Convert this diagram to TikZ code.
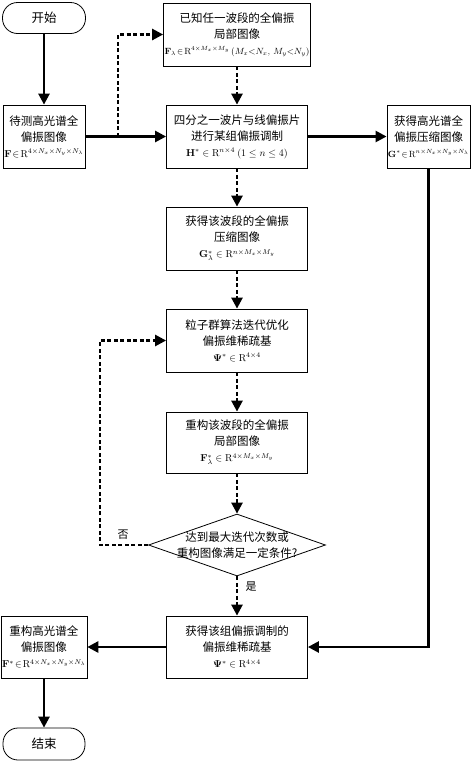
\documentclass[tikz,border=0pt]{standalone}
\usepackage[no-math]{fontspec}
\setmainfont{Liberation Serif}
\newfontfamily\cjk{Noto Sans CJK SC}
\usetikzlibrary{shapes.geometric,arrows.meta}
\tikzset{
  box/.style={draw,line width=0.8pt,minimum width=141pt,minimum height=63pt,align=center,inner sep=1pt,font=\cjk\fontsize{11.5}{16}\selectfont},
  sbox/.style={box,minimum width=82pt},
  term/.style={draw,line width=0.8pt,rounded corners=15pt,minimum width=83pt,minimum height=31pt,font=\cjk\fontsize{12.5}{14}\selectfont},
  flow/.style={line width=2.5pt,-{Triangle[length=11pt,width=11pt]}},
  dflow/.style={flow,dash pattern=on 4pt off 2.5pt},
}
\newcommand{\mth}[1]{{\fontsize{10}{12}\selectfont$#1$}}
\begin{document}
\begin{tikzpicture}[x=1pt,y=-1pt]
  \useasboundingbox (0,0) rectangle (474,764);
  \node[term] (start) at (44,18) {开始};
  \node[sbox] (src) at (44,136.5) {待测高光谱全\\偏振图像\\\mth{\mathbf{F}\!\in\!\mathrm{R}^{4\times N_x\times N_y\times N_\lambda}}};
  \node[box] (known) at (237,34.5) {已知任一波段的全偏振\\局部图像\\{\fontsize{9}{12}\selectfont$\mathbf{F}_\lambda\!\in\!\mathrm{R}^{4\times M_x\times M_y}\,(M_x{<}N_x,\,M_y{<}N_y)$}};
  \node[box] (mod) at (237,136.5) {四分之一波片与线偏振片\\进行某组偏振调制\\\mth{\mathbf{H}^*\in\mathrm{R}^{n\times 4}\ (1\le n\le 4)}};
  \node[sbox,minimum width=81pt] (comp) at (428.5,136.5) {获得高光谱全\\偏振压缩图像\\{\fontsize{9}{12}\selectfont$\mathbf{G}^*\!\in\!\mathrm{R}^{n\times N_x\times N_y\times N_\lambda}$}};
  \node[box] (bandc) at (237,238.5) {获得该波段的全偏振\\压缩图像\\\mth{\mathbf{G}_\lambda^*\in\mathrm{R}^{n\times M_x\times M_y}}};
  \node[box] (pso) at (237,340.5) {粒子群算法迭代优化\\偏振维稀疏基\\\mth{\mathbf{\Psi}^*\in\mathrm{R}^{4\times 4}}};
  \node[box,minimum height=61pt] (rec) at (237,442.5) {重构该波段的全偏振\\局部图像\\\mth{\mathbf{F}_\lambda^*\in\mathrm{R}^{4\times M_x\times M_y}}};
  \node[diamond,draw,line width=0.8pt,minimum width=177pt,minimum height=62pt,inner sep=0pt,
    label={[font=\cjk\fontsize{11.5}{16}\selectfont,align=center]center:达到最大迭代次数或\\重构图像满足一定条件?}] (dec) at (237,545) {};
  \node[box,minimum height=62pt] (basis) at (237,647) {获得该组偏振调制的\\偏振维稀疏基\\\mth{\mathbf{\Psi}^*\in\mathrm{R}^{4\times 4}}};
  \node[sbox,minimum height=62pt] (out) at (44,647) {重构高光谱全\\偏振图像\\\mth{\mathbf{F}^*\!\in\!\mathrm{R}^{4\times N_x\times N_y\times N_\lambda}}};
  \node[term,minimum width=82pt,minimum height=32pt] (end) at (44,744) {结束};
  \node[font=\cjk\fontsize{11}{12}\selectfont] (no) at (123,535) {否};
  \node[font=\cjk\fontsize{11}{12}\selectfont] (yes) at (251,587) {是};
  \coordinate (j) at (118,136.5);
  \coordinate (back) at (100,545);
  \draw[flow] (start) -- (src);
  \draw[flow] (src) -- (mod);
  \draw[dflow] (j) |- (known.west);
  \draw[dflow] (known) -- (mod);
  \draw[flow] (mod) -- (comp);
  \draw[dflow] (mod) -- (bandc);
  \draw[dflow] (bandc) -- (pso);
  \draw[dflow] (pso) -- (rec);
  \draw[dflow] (rec) -- (dec);
  \draw[dflow] (dec) -- (basis);
  \draw[dflow] (dec.west) -- (back) |- (pso.west);
  \draw[flow] (comp.south) |- (basis.east);
  \draw[flow] (basis) -- (out);
  \draw[flow] (out) -- (end);
\end{tikzpicture}
\end{document}
